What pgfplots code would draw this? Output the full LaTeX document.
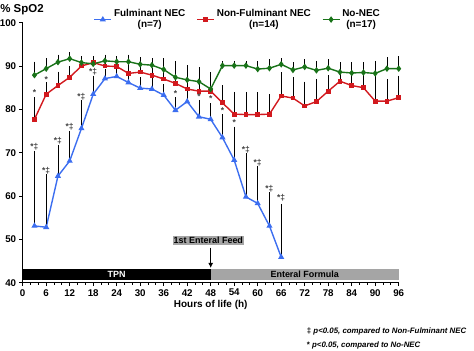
\documentclass[border=0pt]{standalone}
\usepackage{fontspec}
\setmainfont{Liberation Sans}
\usepackage{pgfplots}
\pgfplotsset{compat=1.18}
\usepackage{pgfplotstable}
\usetikzlibrary{arrows.meta}
\definecolor{cblue}{RGB}{60,110,240}
\definecolor{cred}{RGB}{210,25,30}
\definecolor{cgreen}{RGB}{25,115,25}
\definecolor{fgray}{RGB}{165,165,165}

% h, value, top of error bar
\pgfplotstableread{
h G Gt R Rt
3 87.9 90.6 77.7 82.4
6 89.4 91.4 83.5 85.8
9 90.9 92.2 85.5 88.3
12 91.7 92.8 87.4 89.6
15 90.8 91.9 90.0 91.0
18 90.5 91.9 90.8 91.9
21 91.2 92.2 90.0 91.2
24 91.0 91.9 89.9 90.9
27 91.0 92.2 88.3 90.0
30 90.4 91.6 88.6 90.0
33 90.2 91.4 87.9 89.1
36 89.2 91.4 87.0 88.5
39 87.4 90.8 86.0 88.1
42 86.8 89.8 84.7 86.9
45 86.4 89.3 84.2 86.5
48 84.7 88.2 84.2 86.0
51 90.1 90.8 81.5 85.2
54 90.1 90.8 78.9 83.6
57 90.1 90.8 78.8 83.6
60 89.3 90.8 78.8 83.5
63 89.5 91.2 78.9 83.1
66 90.4 91.4 83.1 88.2
69 89.1 90.5 82.6 87.1
72 89.8 91.1 80.8 86.0
75 89.0 90.8 81.8 86.6
78 89.5 91.2 84.2 87.5
81 88.6 90.5 86.5 90.4
84 88.4 90.5 85.5 90.2
87 88.5 90.5 85.0 90.2
90 88.3 90.8 81.9 87.5
93 89.4 91.6 81.9 86.5
96 89.4 91.8 82.7 87.4
}\grdata

\pgfplotstableread{
h B Bt
3 53.1 70.0
6 52.8 64.7
9 64.6 71.4
12 68.1 74.6
15 75.6 81.8
18 83.5 87.4
21 87.1 88.9
24 87.6 89.8
27 86.2 87.9
30 84.9 87.0
33 84.7 87.0
36 83.3 85.4
39 79.8 82.4
42 81.8 84.1
45 78.3 81.8
48 77.7 81.0
51 73.5 78.5
54 68.3 75.6
57 59.8 69.5
60 58.3 66.6
63 53.1 60.5
66 45.9 57.8
}\bdata

\pgfplotstableread{
x y lab
3 83.8 *
6 86.9 *
3 71.3 *‡
6 65.9 *‡
9 72.8 *‡
12 75.9 *‡
15 82.9 *‡
18 88.6 *‡
39 83.6 *
45 82.9 *
48 82.4 *
51 79.8 *
54 77.0 *
57 70.8 *‡
60 67.7 *‡
63 61.8 *‡
66 59.5 *‡
}\annot

\begin{document}
\begin{tikzpicture}
\useasboundingbox (-22.7bp,-68.3bp) rectangle (451.3bp,282.7bp);
\begin{axis}[
  name=ax, at={(0,0)}, anchor=south west,
  scale only axis, width=376bp, height=260bp,
  xmin=0, xmax=96, ymin=40, ymax=100,
  axis x line=bottom, axis y line=left,
  axis line style={-, line width=0.9pt},
  xtick={0,6,...,96}, ytick={40,50,...,100}, minor x tick num=2,
  tick align=outside, major tick length=3.5bp, minor tick length=2bp,
  tick style={black, line width=0.8pt},
  /pgf/number format/assume math mode=true,
  ticklabel style={font=\bfseries\fontsize{9.8}{10}\selectfont},
  xticklabel style={yshift=0.5bp},
  yticklabel style={xshift=0.5bp},
  xlabel={Hours of life (h)},
  xlabel style={font=\bfseries\fontsize{10}{11}\selectfont, at={(axis description cs:0.5,-0.087)}, anchor=center},
  clip=false,
  legend columns=3,
  legend style={draw=none, fill=none, at={(0.572,1.012)}, anchor=center,
    font=\bfseries\fontsize{10}{11}\selectfont, cells={align=center},
    /tikz/every even column/.append style={column sep=9bp}},
]
% feeding bars
\fill[black] (axis cs:0,40.62) rectangle (axis cs:48,43.09);
\fill[fgray] (axis cs:48,40.62) rectangle (axis cs:96,43.09);
\node[text=white, font=\bfseries\fontsize{9}{9}\selectfont] at (axis cs:24,41.85) {TPN};
\node[text=black, font=\bfseries\fontsize{9}{9}\selectfont] at (axis cs:72,41.85) {Enteral Formula};
\node[fill=fgray, inner sep=1.2bp, font=\bfseries\fontsize{9}{9}\selectfont] at (axis cs:47.4,49.7) {1st Enteral Feed};
\draw[-{Latex[length=5bp,width=5bp]}, line width=1.3pt] (axis cs:48,48.1) -- (axis cs:48,43.4);

\addplot[cblue, line width=1.4pt, mark=triangle*, mark size=2.2bp,
  error bars/.cd, y dir=plus, y explicit,
  error bar style={black, line width=0.8pt},
  error mark options={black, line width=0.8pt, mark size=1.8bp}]
  table[x=h, y=B, y error expr=\thisrow{Bt}-\thisrow{B}] {\bdata};
\addlegendentry{Fulminant NEC\\(n=7)}
\addplot[cred, line width=1.4pt, mark=square*, mark size=1.7bp,
  error bars/.cd, y dir=plus, y explicit,
  error bar style={black, line width=0.8pt},
  error mark options={black, line width=0.8pt, mark size=1.8bp}]
  table[x=h, y=R, y error expr=\thisrow{Rt}-\thisrow{R}] {\grdata};
\addlegendentry{Non-Fulminant NEC\\(n=14)}
\addplot[cgreen, line width=1.4pt, mark=diamond*, mark size=2.2bp,
  error bars/.cd, y dir=plus, y explicit,
  error bar style={black, line width=0.8pt},
  error mark options={black, line width=0.8pt, mark size=1.8bp}]
  table[x=h, y=G, y error expr=\thisrow{Gt}-\thisrow{G}] {\grdata};
\addlegendentry{No-NEC\\(n=17)}

\addplot[draw=none, mark=none, forget plot, nodes near coords, point meta=explicit symbolic,
  every node near coord/.append style={anchor=center, inner sep=0pt, text=black!75,
    font=\bfseries\fontsize{8.5}{9}\selectfont}]
  table[x=x, y=y, meta=lab] {\annot};

\node[anchor=west, font=\bfseries\fontsize{11.5}{12}\selectfont, inner sep=0pt] at (rel axis cs:-0.06,1.049) {\% SpO2};
\end{axis}
\node[anchor=west, inner sep=0pt, font=\bfseries\fontsize{7.9}{9}\selectfont] at (284bp,-48.3bp) {‡ \itshape p<0.05, compared to Non-Fulminant NEC};
\node[anchor=west, inner sep=0pt, font=\bfseries\fontsize{7.9}{9}\selectfont] at (284bp,-62.3bp) {* \itshape p<0.05, compared to No-NEC};
\end{tikzpicture}
\end{document}
